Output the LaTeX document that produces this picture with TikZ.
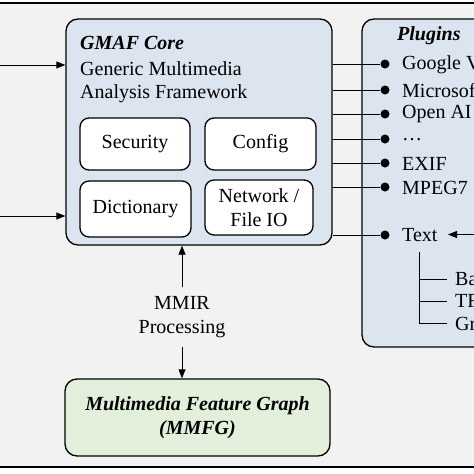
\documentclass[tikz,border=0pt]{standalone}
\usepackage{fontspec}
\setmainfont{Liberation Serif}
\usetikzlibrary{arrows.meta}
\definecolor{bggrey}{HTML}{F2F2F2}
\definecolor{coreblue}{HTML}{DCE4F0}
\definecolor{mmfggreen}{HTML}{E2EFDA}
\begin{document}
\begin{tikzpicture}[x=1pt,y=-1pt,
  font=\fontsize{20}{23.5}\selectfont,
  bigbox/.style={draw=black,line width=1.3pt,rounded corners=12pt,fill=coreblue,inner sep=0pt},
  subbox/.style={draw=black,line width=1.3pt,rounded corners=9pt,fill=white,inner sep=0pt,align=center},
  conn/.style={line width=0.8pt},
  arr/.style={line width=0.8pt,-{Triangle[length=9pt,width=7pt]}},
  dot/.style={circle,fill=black,inner sep=0pt,minimum size=9pt},
  lbl/.style={anchor=west,inner sep=0pt},
  bi/.style={font=\fontsize{20}{23.5}\selectfont\bfseries\itshape},
]
\useasboundingbox (0,0) rectangle (474,474);
\clip (0,0) rectangle (474,474);
\fill[white] (0,0) rectangle (474,474);
\fill[bggrey] (0,3) rectangle (474,467);
\draw[line width=1.4pt] (0,3) -- (474,3);
\draw[line width=1.4pt] (0,467) -- (474,467);

% boxes
\node[bigbox,minimum width=266pt,minimum height=226pt] (core) at (199,132) {};
\node[bigbox,minimum width=150pt,minimum height=328pt] (plug) at (437,183) {};
\node[bigbox,bi,fill=mmfggreen,minimum width=265pt,minimum height=77pt,align=center] (mmfg) at (197.5,417.5) {Multimedia Feature Graph\\(MMFG)};

% core texts
\node[lbl,bi] (coretitle) at (80,43) {GMAF Core};
\node[lbl,align=left] (coresub) at (80,82) {Generic Multimedia\\Analysis Framework};

\node[subbox,minimum width=110pt,minimum height=52pt] (sec) at (135,144) {Security};
\node[subbox,minimum width=111pt,minimum height=52pt] (cfg) at (260.5,144) {Config};
\node[subbox,minimum width=111pt,minimum height=56pt] (dict) at (135.5,209) {Dictionary};
\node[subbox,minimum width=108pt,minimum height=55pt] (net) at (259,207.5) {Network /\\File IO};

% left inputs
\coordinate (in1) at (0,65);
\coordinate (in2) at (0,216);
\draw[arr] (in1) -- (in1 -| core.west);
\draw[arr] (in2) -- (in2 -| core.west);

% plugins
\node[lbl,bi] (plugtitle) at (397,36) {Plugins};
\foreach \n/\y/\t in {d1/64/Google V, d2/90/Microsof, d3/114/Open AI, d4/139/\dots, d5/163/EXIF, d6/187/MPEG7, d7/235/Text}{
  \node[dot] (\n) at (385,\y) {};
  \draw[conn] (\n -| core.east) -- (\n);
  \node[lbl] (\n l) at (402,\y+0.5) {\t};
}
\coordinate (txtin) at (474,234.5);
\coordinate (txtend) at (448,234.5);
\draw[arr] (txtin) -- (txtend);
% tree
\coordinate (ttop) at (419,252);
\node[lbl] (t1) at (455,279) {Ba};
\node[lbl] (t2) at (455,301) {TF};
\node[lbl] (t3) at (455,323.5) {Gr};
\draw[conn] (ttop) -- (ttop |- t3.west) -- ++(28,0);
\draw[conn] (ttop |- t1.west) -- ++(28,0);
\draw[conn] (ttop |- t2.west) -- ++(28,0);

% MMIR
\node[align=center,inner xsep=2pt,inner ysep=9pt] (mmir) at (182,317) {MMIR\\Processing};
\draw[arr] (mmir.north) -- (mmir.north |- core.south);
\draw[arr] (mmir.south) -- (mmir.south |- mmfg.north);
\end{tikzpicture}
\end{document}
